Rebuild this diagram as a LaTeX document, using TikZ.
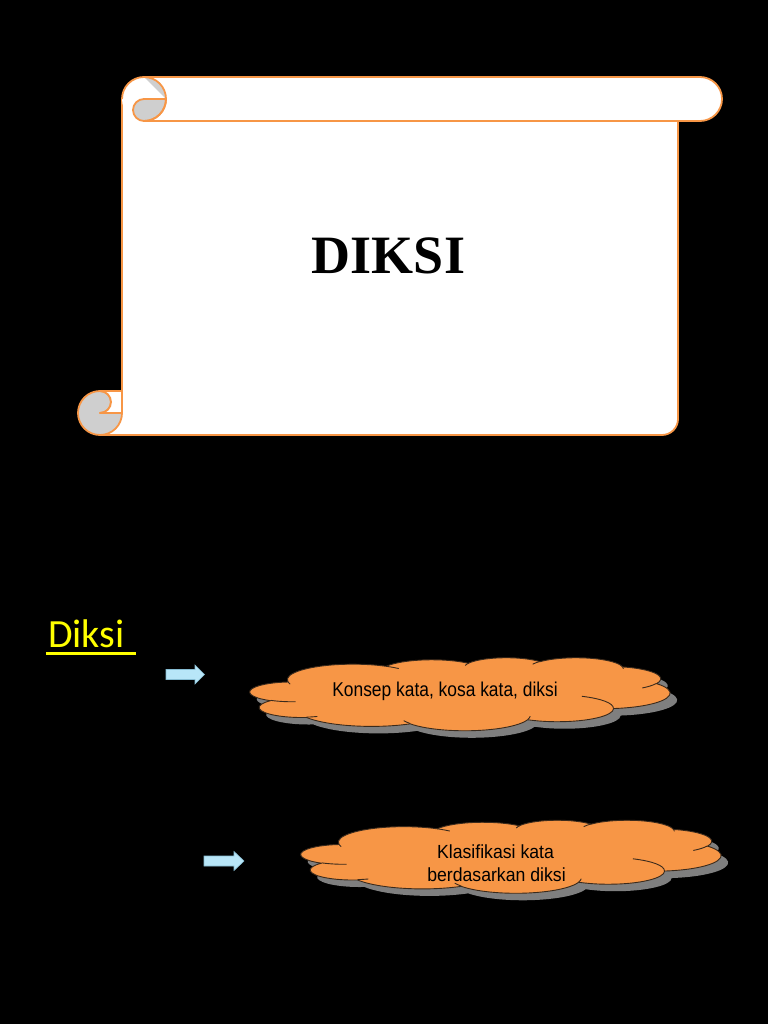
\documentclass[tikz,border=0pt]{standalone}
\usepackage{fontspec}
\usepackage{graphicx}
\setmainfont{Liberation Serif}
\newfontfamily\arialf{Liberation Sans}
\newfontfamily\calibrif{Carlito}
\definecolor{scrollor}{HTML}{F79646}
\definecolor{rollgray}{HTML}{CFCFCF}
\definecolor{cloudor}{HTML}{F79646}
\definecolor{cloudline}{HTML}{3A2A1C}
\definecolor{shadowgray}{HTML}{7F7F7F}
\definecolor{arrowblue}{HTML}{B8E6F8}
\definecolor{arrowline}{HTML}{86BCD2}
\definecolor{diksiyellow}{HTML}{FFFF00}
\tikzset{
  pptarc/.style n args={4}{x radius=#1, y radius=#2,
    start angle={atan2((#1)*sin(#3),(#2)*cos(#3))},
    delta angle={mod(atan2((#1)*sin((#3)+(#4)),(#2)*cos((#3)+(#4)))-atan2((#1)*sin(#3),(#2)*cos(#3))+720,360)}},
  scrollline/.style={draw=scrollor, line width=1.8pt, line join=round},
  cloudstroke/.style={draw=cloudline, line width=0.9pt, line join=round},
  blockarrow/.style={fill=arrowblue, draw=arrowline, line width=0.6pt, line join=miter},
  cloudtext/.style={anchor=base, inner sep=0pt, text=black},
}
\newcommand\cloudoutline{(3.900,14.370)
 arc[pptarc={6.753}{9.190}{-190.4875}{123.7805}]
 arc[pptarc={5.333}{7.267}{-144.1024}{89.9452}]
 arc[pptarc={4.365}{5.945}{-145.8079}{99.7230}]
 arc[pptarc={4.857}{6.595}{-130.9861}{117.2417}]
 arc[pptarc={5.333}{7.273}{-78.7089}{109.0269}]
 arc[pptarc={6.775}{9.220}{-46.2673}{130.2690}]
 arc[pptarc={5.785}{7.867}{0.6250}{114.0333}]
 arc[pptarc={6.752}{9.215}{22.4516}{115.1726}]
 arc[pptarc={7.720}{10.543}{66.2426}{75.7110}]
 arc[pptarc={4.360}{5.918}{-274.9421}{146.7356}]
 arc[pptarc={4.345}{5.945}{-246.8285}{152.5189}] -- cycle}
\newcommand\cloudinner{
 (4.693,26.177) arc[pptarc={4.345}{5.945}{86.742}{26.4295}]
 (6.928,34.899) arc[pptarc={4.360}{5.918}{73.6105}{11.4475}]
 (16.478,39.090) arc[pptarc={6.752}{9.215}{137.6242}{14.0811}]
 (28.827,34.751) arc[pptarc={6.752}{9.215}{6.4533}{15.9984}]
 (34.129,22.954) arc[pptarc={5.785}{7.867}{-70.2924}{70.9174}]
 (41.798,15.354) arc[pptarc={5.333}{7.273}{30.3180}{27.7515}]
 (38.324,5.426) arc[pptarc={4.857}{6.595}{-13.7443}{14.8589}]
 (29.078,3.952) arc[pptarc={4.857}{6.595}{-149.1815}{18.1954}]
 (22.141,4.720) arc[pptarc={4.365}{5.945}{-163.4943}{17.6864}]
 (14.000,5.192) arc[pptarc={6.753}{9.190}{-66.7070}{12.3194}]
 (4.127,15.789) arc[pptarc={6.753}{9.190}{157.6544}{11.8582}]}
\begin{document}
\begin{tikzpicture}[x=1pt, y=-1pt]
\fill[black] (0,0) rectangle (768,1024);
\useasboundingbox (0,0) rectangle (768,1024);

% ---------- scroll ----------
% body
\filldraw[fill=white, scrollline] (122,99) -- (122,413) -- (100,413) -- (100,435) -- (662,435)
  arc[start angle=90, end angle=0, radius=16] -- (678,99);
% top band
\filldraw[fill=white, scrollline] (144,121) -- (700,121)
  arc[start angle=90, end angle=-90, radius=22] -- (144,77);
% top-left roll
\fill[white] (144,99) circle[radius=22];
\fill[rollgray] (144,77) arc[start angle=-90, end angle=0, radius=22] -- cycle;
\filldraw[fill=rollgray, scrollline] (144,99) arc[start angle=-90, end angle=-270, radius=11]
  arc[start angle=90, end angle=0, radius=22] -- cycle;
\draw[scrollline] (122,99) arc[start angle=180, end angle=450, radius=22];
% bottom-left roll
\filldraw[fill=rollgray, scrollline] (122,413) arc[start angle=0, end angle=270, radius=22]
  arc[start angle=-90, end angle=90, radius=11] -- cycle;
\filldraw[fill=white, scrollline] (100,391) -- (122,391) -- (122,413) -- (100,413)
  arc[start angle=90, end angle=-90, radius=11] -- cycle;

\node[anchor=base, inner sep=0pt, font=\bfseries\fontsize{54}{60}\selectfont, text=black] (title) at (388.5,273) {DIKSI};

% ---------- Diksi ----------
\node[anchor=base west, inner sep=0pt, font=\calibrif\fontsize{40}{44}\selectfont, text=diksiyellow] (dk) at (48,647) {Diksi};
\draw[diksiyellow, line width=2.8pt] (46,653.5) -- (136,653.5);

% ---------- arrows ----------
\draw[blockarrow] (166,669.5) -- (195,669.5) -- (195,665) -- (204.5,674.5) -- (195,684) -- (195,679.5) -- (166,679.5) -- cycle;
\draw[blockarrow] (204,856) -- (234,856) -- (234,851.5) -- (244,861) -- (234,870.5) -- (234,866) -- (204,866) -- cycle;

% ---------- cloud 1 ----------
\begin{scope}[shift={(257,664.5)}, xscale=9.7222, yscale=1.6898]
  \fill[shadowgray] \cloudoutline;
\end{scope}
\begin{scope}[shift={(250,657.5)}, xscale=9.7222, yscale=1.6898]
  \filldraw[fill=cloudor, cloudstroke] \cloudoutline;
  \draw[cloudstroke] \cloudinner;
\end{scope}
\node[cloudtext, font=\arialf\fontsize{20}{23}\selectfont] (c1text) at (445,696) {\scalebox{0.87}[1]{Konsep kata, kosa kata, diksi}};

% ---------- cloud 2 ----------
\begin{scope}[shift={(308,827)}, xscale=9.7222, yscale=1.6898]
  \fill[shadowgray] \cloudoutline;
\end{scope}
\begin{scope}[shift={(301,820)}, xscale=9.7222, yscale=1.6898]
  \filldraw[fill=cloudor, cloudstroke] \cloudoutline;
  \draw[cloudstroke] \cloudinner;
\end{scope}
\node[cloudtext, font=\arialf\fontsize{19}{23}\selectfont] (c2texta) at (495.5,858) {\scalebox{0.93}[1]{Klasifikasi kata}};
\node[cloudtext, font=\arialf\fontsize{19}{23}\selectfont] (c2textb) at (496.5,881.5) {\scalebox{0.93}[1]{berdasarkan diksi}};
\end{tikzpicture}
\end{document}
